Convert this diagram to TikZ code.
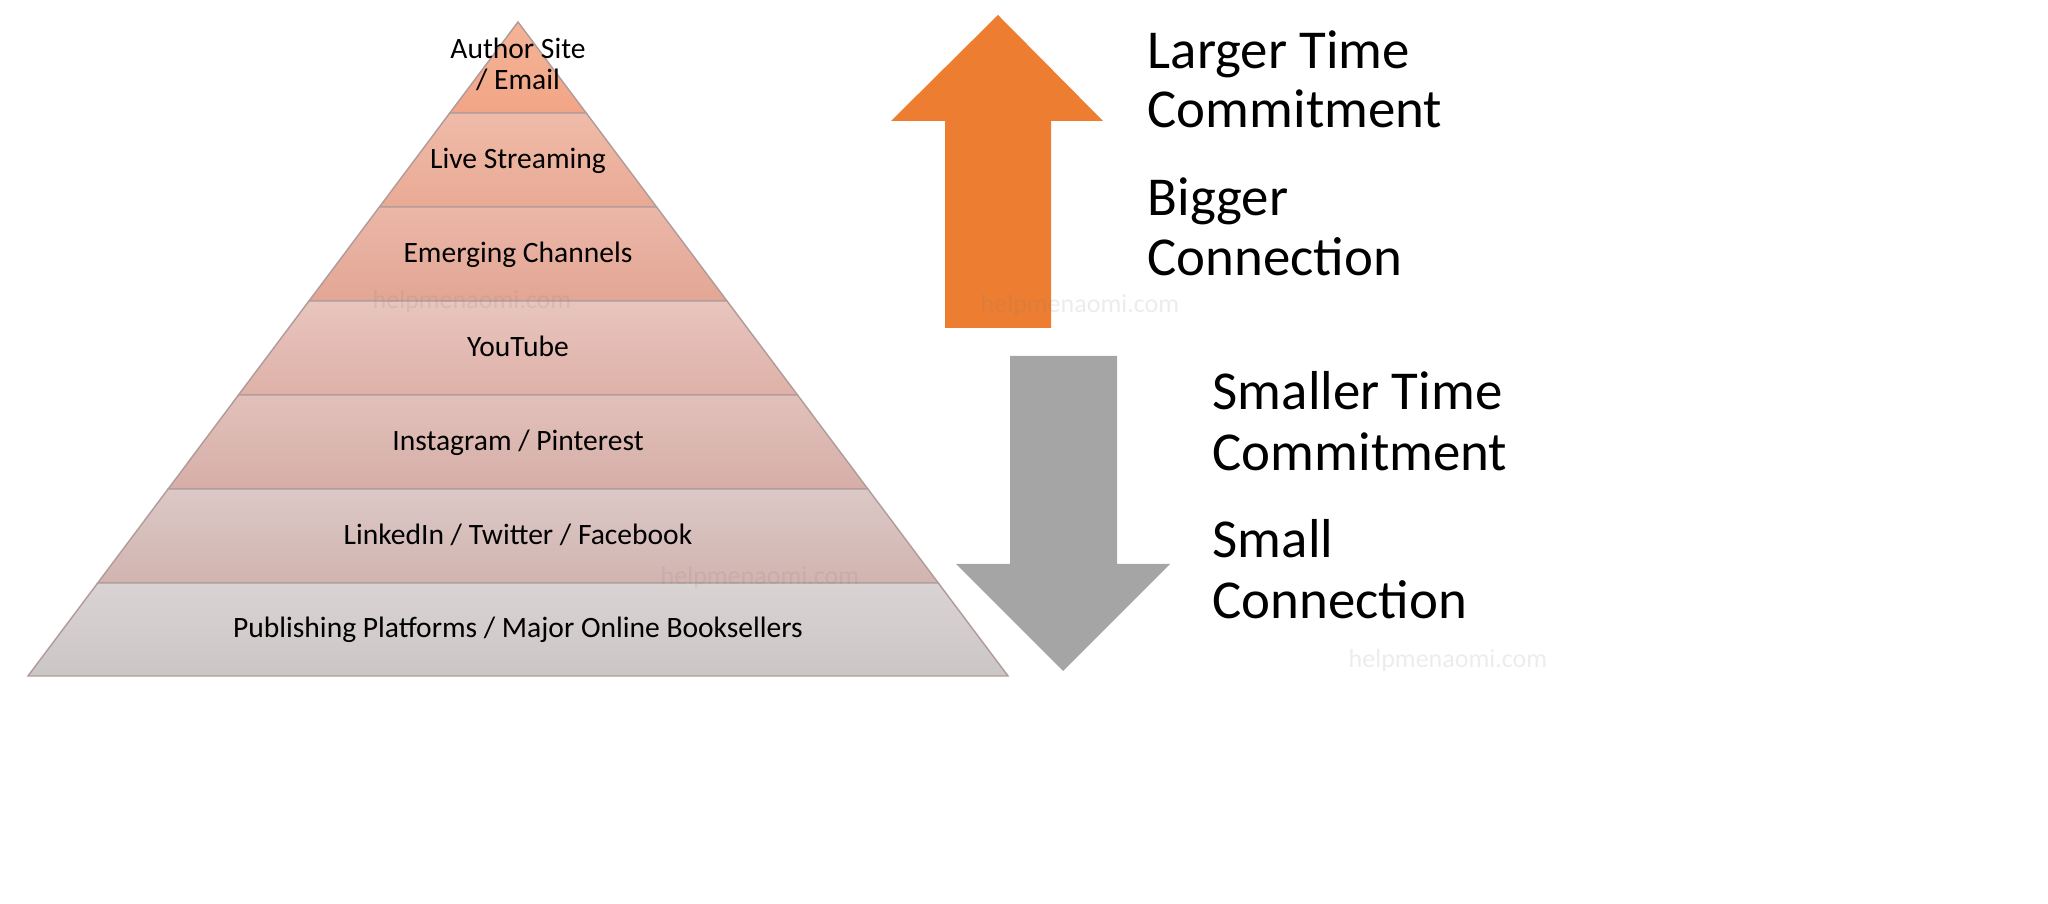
\documentclass[tikz,border=0pt]{standalone}
\usepackage{fontspec}
\setmainfont{Carlito}
\usepackage{tikz}

\definecolor{arrowOrange}{HTML}{ED7D31}
\definecolor{arrowGray}{HTML}{A5A5A5}
\definecolor{edgeGray}{HTML}{B09A9A}
\definecolor{layerAtop}{HTML}{F5B396}
\definecolor{layerAbot}{HTML}{F1A586}
\definecolor{layerBtop}{HTML}{EFBBA8}
\definecolor{layerBbot}{HTML}{E9AA95}
\definecolor{layerCtop}{HTML}{EBB7A8}
\definecolor{layerCbot}{HTML}{E3A694}
\definecolor{layerDtop}{HTML}{E8C5BE}
\definecolor{layerDbot}{HTML}{DEB1A8}
\definecolor{layerEtop}{HTML}{E2C1BB}
\definecolor{layerEbot}{HTML}{D6AEA7}
\definecolor{layerFtop}{HTML}{DCC8C6}
\definecolor{layerFbot}{HTML}{D1B4B0}
\definecolor{layerGtop}{HTML}{DAD3D3}
\definecolor{layerGbot}{HTML}{CBC6C6}

\tikzset{
  layertext/.style={font=\fontsize{8.4}{10}\selectfont, anchor=base, inner sep=0pt},
  sidetext/.style={font=\fontsize{15.6}{17}\selectfont, anchor=base west, inner sep=0pt},
  wmark/.style={font=\fontsize{7.4}{9}\selectfont, text=gray, opacity=0.15, anchor=west, inner sep=0pt}
}

\begin{document}
\begin{tikzpicture}[x=0.01cm,y=-0.01cm]
        \useasboundingbox (0,0) rectangle (2048,904);

        % Pyramid
        \shadedraw[top color=layerAtop, bottom color=layerAbot, draw=edgeGray] (518,22) -- (586.2,113) -- (449.8,113) -- cycle;
        \shadedraw[top color=layerBtop, bottom color=layerBbot, draw=edgeGray] (449.8,113) -- (586.2,113) -- (656.6,207) -- (379.4,207) -- cycle;
        \shadedraw[top color=layerCtop, bottom color=layerCbot, draw=edgeGray] (379.4,207) -- (656.6,207) -- (727,301) -- (309,301) -- cycle;
        \shadedraw[top color=layerDtop, bottom color=layerDbot, draw=edgeGray] (309,301) -- (727,301) -- (797.5,395) -- (238.5,395) -- cycle;
        \shadedraw[top color=layerEtop, bottom color=layerEbot, draw=edgeGray] (238.5,395) -- (797.5,395) -- (867.9,489) -- (168.1,489) -- cycle;
        \shadedraw[top color=layerFtop, bottom color=layerFbot, draw=edgeGray] (168.1,489) -- (867.9,489) -- (938.3,583) -- (97.7,583) -- cycle;
        \shadedraw[top color=layerGtop, bottom color=layerGbot, draw=edgeGray] (97.7,583) -- (938.3,583) -- (1008,676) -- (28,676) -- cycle;

        % Layer labels
        \node[layertext] (author) at (518,59) {Author Site};
        \node[layertext] (email) at (518,90) {/ Email};
        \node[layertext] (live) at (518,169) {Live Streaming};
        \node[layertext] (emerging) at (518,263) {Emerging Channels};
        \node[layertext] (youtube) at (518,357) {YouTube};
        \node[layertext] (insta) at (518,451) {Instagram / Pinterest};
        \node[layertext] (social) at (518,545) {LinkedIn / Twitter / Facebook};
        \node[layertext] (publish) at (518,638) {Publishing Platforms / Major Online Booksellers};

        % Arrows
        \fill[arrowOrange] (945,328) -- (945,121) -- (891,121) -- (998,15) -- (1103,121) -- (1051,121) -- (1051,328) -- cycle;
        \fill[arrowGray] (1010,356) -- (1117,356) -- (1117,564) -- (1170,564) -- (1063,671) -- (956,564) -- (1010,564) -- cycle;

        % Indications
        \node[sidetext] (larger) at (1147,69) {Larger Time};
        \node[sidetext] (commitup) at (1147,128) {Commitment};
        \node[sidetext] (bigger) at (1147,216) {Bigger};
        \node[sidetext] (connup) at (1147,276) {Connection};
        \node[sidetext] (smaller) at (1212,410) {Smaller Time};
        \node[sidetext] (commitdown) at (1212,471) {Commitment};
        \node[sidetext] (small) at (1212,558) {Small};
        \node[sidetext] (conndown) at (1212,619) {Connection};

        % Watermarks
        \node[wmark] (markA) at (372,302) {helpmenaomi.com};
        \node[wmark] (markB) at (980,306) {helpmenaomi.com};
        \node[wmark] (markC) at (660,578) {helpmenaomi.com};
        \node[wmark] (markD) at (1348,661) {helpmenaomi.com};
\end{tikzpicture}
\end{document}
